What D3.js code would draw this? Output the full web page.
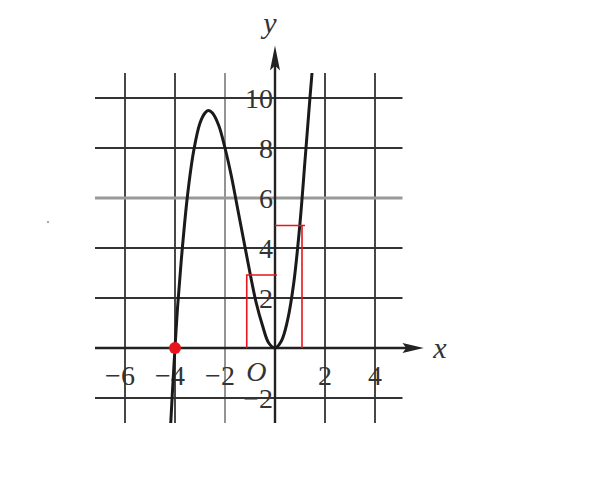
<!DOCTYPE html>
<html>
<head>
<meta charset="utf-8">
<script src="https://cdn.jsdelivr.net/npm/d3@7"></script>
<style>
  body { margin: 0; background: #fff; }
  svg text { font-family: "Liberation Serif", "DejaVu Serif", serif; fill: #333; }
</style>
</head>
<body>
<svg id="chart" width="589" height="477"></svg>
<script>
// curve points
const curveX = [-4.17, -4.1, -4.0, -3.9, -3.75, -3.5, -3.25, -3.0, -2.8, -2.67, -2.5, -2.25, -2.0, -1.75, -1.5, -1.25, -1.0, -0.75, -0.5, -0.25, 0, 0.25, 0.5, 0.75, 1.0, 1.2, 1.35, 1.48];
const curveY = [-3.0, -1.7, 0, 1.6, 3.5, 6.1, 7.9, 9.0, 9.4, 9.5, 9.4, 8.9, 8.0, 6.9, 5.6, 4.3, 3.0, 1.8, 0.9, 0.2, 0, 0.27, 1.1, 2.6, 5.0, 7.5, 9.4, 11.0];
const gridX = [-6, -4, -2, 2, 4];
const gridY = [-2, 2, 4, 6, 8, 10];
const xTicks = [-6, -4, -2, 2, 4];
const yTicks = [10, 8, 6, 4, 2, -2];
const rootPoint = [-4, 0];
const leftBar = { x0: -1.13, x1: 0, h: 2.92 };
const rightBar = { x0: 0, x1: 1.08, h: 4.9 };

const svg = d3.select('#chart');
const x = d3.scaleLinear().domain([0, 1]).range([275, 300]);
const y = d3.scaleLinear().domain([0, 1]).range([348, 323]);

// grid
const grid = svg.append('g').attr('stroke', '#333').attr('stroke-width', 1.8);
grid.selectAll('.gx').data(gridX).join('line')
  .attr('x1', d => x(d)).attr('x2', d => x(d)).attr('y1', y(11)).attr('y2', y(-3))
  .attr('stroke', d => d === -2 ? '#888' : '#333');
grid.selectAll('.gy').data(gridY).join('line')
  .attr('y1', d => y(d)).attr('y2', d => y(d)).attr('x1', x(-7.2)).attr('x2', x(5.1))
  .attr('stroke', d => d === 6 ? '#999' : '#333').attr('stroke-width', d => d === 6 ? 2.8 : 1.8);

// axes
svg.append('line').attr('x1', x(-7.2)).attr('x2', x(5.4)).attr('y1', y(0)).attr('y2', y(0))
  .attr('stroke', '#222').attr('stroke-width', 2.4);
svg.append('line').attr('x1', x(0)).attr('x2', x(0)).attr('y1', y(-3)).attr('y2', y(11.6))
  .attr('stroke', '#222').attr('stroke-width', 2.4);
svg.append('path').attr('fill', '#222')
  .attr('d', `M${x(5.95)},${y(0)} L${x(5.1)},${y(0) - 5} L${x(5.25)},${y(0)} L${x(5.1)},${y(0) + 5} Z`);
svg.append('path').attr('fill', '#222')
  .attr('d', `M${x(0)},${y(12.1)} L${x(0) - 5},${y(11.1)} L${x(0)},${y(11.3)} L${x(0) + 5},${y(11.1)} Z`);

// tick labels
svg.selectAll('.xt').data(xTicks).join('text')
  .attr('x', d => x(d) - (d < 0 ? 5 : 0)).attr('y', y(0) + 37)
  .attr('text-anchor', 'middle').attr('font-size', 28).text(d => d < 0 ? '\u2212' + (-d) : d);
svg.selectAll('.yt').data(yTicks).join('text')
  .attr('x', x(0) - 2).attr('y', d => y(d) + 10)
  .attr('text-anchor', 'end').attr('font-size', 28).text(d => d < 0 ? '\u2212' + (-d) : d);
svg.append('text').attr('x', x(-0.75)).attr('y', y(0) + 33).attr('text-anchor', 'middle')
  .attr('font-size', 28).attr('font-style', 'italic').text('O');
svg.append('text').attr('x', x(6.6)).attr('y', y(0) + 10).attr('text-anchor', 'middle')
  .attr('font-size', 30).attr('font-style', 'italic').text('x');
svg.append('text').attr('x', x(-0.2)).attr('y', y(12.6)).attr('text-anchor', 'middle')
  .attr('font-size', 30).attr('font-style', 'italic').text('y');

// curve
const pts = curveX.map((d, i) => [d, curveY[i]]);
svg.append('path').datum(pts)
  .attr('fill', 'none').attr('stroke', '#1a1a1a').attr('stroke-width', 3)
  .attr('d', d3.line().x(d => x(d[0])).y(d => y(d[1])).curve(d3.curveCatmullRom));

// red rectangles (open-bottom)
const red = svg.append('g').attr('stroke', '#e8141c').attr('stroke-width', 1.6).attr('fill', 'none');
red.append('path').attr('d',
  `M${x(leftBar.x0)},${y(0)} L${x(leftBar.x0)},${y(leftBar.h)} L${x(leftBar.x1) + 2},${y(leftBar.h)}`);
red.append('path').attr('d',
  `M${x(rightBar.x0)},${y(rightBar.h)} L${x(rightBar.x1) + 3},${y(rightBar.h)} M${x(rightBar.x1)},${y(rightBar.h)} L${x(rightBar.x1)},${y(0)}`);

svg.append('circle').attr('cx', x(rootPoint[0])).attr('cy', y(rootPoint[1])).attr('r', 6).attr('fill', '#e8141c');
svg.append('circle').attr('cx', 48).attr('cy', 222).attr('r', 1).attr('fill', '#888');
</script>
</body>
</html>
